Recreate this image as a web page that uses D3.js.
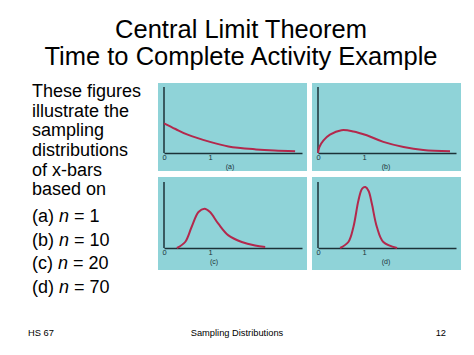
<!DOCTYPE html>
<html>
<head>
<meta charset="utf-8">
<script src="https://cdn.jsdelivr.net/npm/d3@7"></script>
<style>
  body { margin: 0; background: #fff; }
  svg { display: block; font-family: "Liberation Sans", Arial, sans-serif; }
</style>
</head>
<body>
<svg id="slide" width="474" height="355"></svg>
<script>
const svg = d3.select("#slide"),
    width = +svg.attr("width"),
    height = +svg.attr("height");

// slide text
const title_lines = ["Central Limit Theorem", "Time to Complete Activity Example"];
const body_lines = ["These figures", "illustrate the", "sampling", "distributions", "of x-bars", "based on"];
const n_labels = ["(a)", "(b)", "(c)", "(d)"];
const n_values = [1, 10, 20, 70];
const footer = ["HS 67", "Sampling Distributions", "12"];

// curves (x = time, y = relative density)
const xa = [0, 0.25, 0.5, 1, 1.4, 2, 2.4, 2.85];
const ya = [0.99, 0.80, 0.62, 0.37, 0.22, 0.12, 0.08, 0.055];
const xb = [0, 0.03, 0.12, 0.26, 0.51, 0.77, 1.06, 1.42, 1.86, 2.29, 2.87];
const yb = [0, 0.2, 0.42, 0.61, 0.76, 0.72, 0.59, 0.37, 0.2, 0.1, 0.055];
const xc = [0.28, 0.46, 0.6, 0.75, 0.88, 1.0, 1.18, 1.4, 1.69, 1.98, 2.2];
const yc = [0, 0.2, 0.7, 1.2, 1.31, 1.2, 0.81, 0.42, 0.2, 0.08, 0.03];
const xd = [0.48, 0.66, 0.77, 0.88, 0.96, 1.03, 1.1, 1.17, 1.28, 1.42, 1.72];
const yd = [0, 0.2, 0.7, 1.59, 1.98, 2.03, 1.9, 1.48, 0.7, 0.2, 0];
const tick_values = [0, 1];

const curves = [[xa, ya], [xb, yb], [xc, yc], [xd, yd]];

// title
svg.selectAll("text.title")
    .data(title_lines)
    .enter()
    .append("text")
    .attr("class", "title")
    .attr("x", 241)
    .attr("y", function (d, i) { return 38 + i * 27; })
    .attr("text-anchor", "middle")
    .style("font-size", "25.5px")
    .style("fill", "#000")
    .text(d => d);

// left text
const bodyY = [97, 117, 136, 156, 176, 195];
svg.selectAll("text.body")
    .data(body_lines)
    .enter()
    .append("text")
    .attr("class", "body")
    .attr("x", 32)
    .attr("y", (d, i) => bodyY[i])
    .style("font-size", "18px")
    .text(d => d);

const itemY = [222, 246, 269, 293];
n_labels.forEach(function (lab, i) {
    let t = svg.append("text")
        .attr("x", 32)
        .attr("y", itemY[i])
        .style("font-size", "18px");
    t.append("tspan").text(lab + " ");
    t.append("tspan").style("font-style", "italic").text("n");
    t.append("tspan").text(" = " + n_values[i]);
});

// footer
svg.append("text").attr("x", 28).attr("y", 336).style("font-size", "9.3px").text(footer[0]);
svg.append("text").attr("x", 237).attr("y", 336).attr("text-anchor", "middle").style("font-size", "9.3px").text(footer[1]);
svg.append("text").attr("x", 446).attr("y", 336).attr("text-anchor", "end").style("font-size", "9.3px").text(footer[2]);

// panels
const panels = [
    {x: 158, y: 83, w: 149, h: 88, ax: 164, base: 153, labX: 230},
    {x: 312, y: 83, w: 149, h: 88, ax: 318, base: 153, labX: 386},
    {x: 158, y: 177, w: 149, h: 93, ax: 164, base: 248, labX: 214},
    {x: 312, y: 177, w: 149, h: 93, ax: 318, base: 248, labX: 386}
];

panels.forEach(function (p, i) {
    let g = svg.append("g");
    g.append("rect")
        .attr("x", p.x).attr("y", p.y)
        .attr("width", p.w).attr("height", p.h)
        .attr("fill", "#8fd3d8");

    let x = d3.scaleLinear().domain([0, 3]).range([p.ax, p.ax + 138]);
    let y = d3.scaleLinear().domain([0, 2.2]).range([p.base, p.base - 66]);

    // y axis
    g.append("line")
        .attr("x1", x(0)).attr("x2", x(0))
        .attr("y1", y(0)).attr("y2", y(2.2))
        .attr("stroke", "#1c3238").attr("stroke-width", 1.5);

    // x axis
    let xAxis = g.append("g")
        .attr("transform", "translate(0," + p.base + ")")
        .call(d3.axisBottom(x).tickValues(tick_values).tickSize(0).tickPadding(2).tickFormat(d3.format("d")));
    xAxis.select(".domain").attr("stroke", "#1c3238").attr("stroke-width", 1.5);
    xAxis.selectAll("text")
        .attr("fill", "#1c3238")
        .style("font-size", "7.5px")
        .style("font-family", "Liberation Sans, Arial, sans-serif");

    g.append("text")
        .attr("x", p.labX)
        .attr("y", p.base + 16)
        .attr("text-anchor", "middle")
        .style("font-size", "7px")
        .attr("fill", "#1c3238")
        .text(n_labels[i]);

    let pts = d3.zip(curves[i][0], curves[i][1]);
    let line = d3.line()
        .x(d => x(d[0]))
        .y(d => y(Math.max(0, d[1])))
        .curve(d3.curveCatmullRom.alpha(0.5));
    g.append("path")
        .datum(pts)
        .attr("d", line)
        .attr("fill", "none")
        .attr("stroke", "#b3284c")
        .attr("stroke-width", 2);
});
</script>
</body>
</html>
